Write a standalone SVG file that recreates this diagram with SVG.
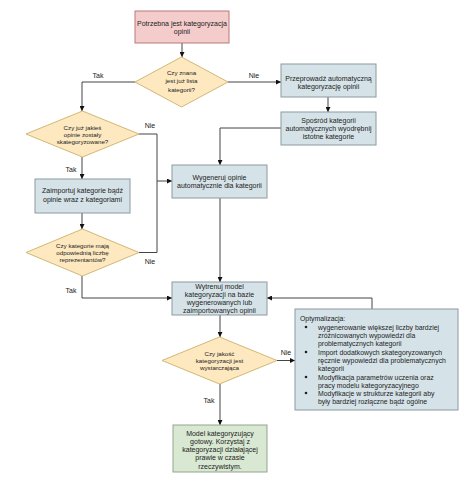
<svg xmlns="http://www.w3.org/2000/svg" width="474" height="494" viewBox="0 0 474 494">
<style>
text{font-family:"Liberation Sans",Arial,sans-serif;fill:#222;}
.t{font-size:7px;text-anchor:middle;}
.d{font-size:6.2px;text-anchor:middle;}
.l{font-size:7px;text-anchor:middle;}
.o{font-size:6.9px;}
.pink{fill:#f4cccc;stroke:#b97a78;stroke-width:1;}
.blue{fill:#d5e3e8;stroke:#8c9aa1;stroke-width:1;}
.dia{fill:#fde8c0;stroke:#d3b874;stroke-width:1;}
.green{fill:#d8e8d2;stroke:#93a58b;stroke-width:1;}
.c{fill:none;stroke:#444;stroke-width:1;}
</style>
<defs>
<marker id="a" viewBox="0 0 10 10" refX="10" refY="5" markerWidth="5" markerHeight="5" orient="auto" markerUnits="userSpaceOnUse"><path d="M0,0 L10,5 L0,10 z" fill="#111"/></marker>
</defs>
<rect width="474" height="494" fill="#fff"/>
<g id="connectors">
<path class="c" d="M182,43 V57" marker-end="url(#a)"/>
<path class="c" d="M135,82 H82 V111" marker-end="url(#a)"/>
<path class="c" d="M228,82 H281" marker-end="url(#a)"/>
<path class="c" d="M328,97 V112" marker-end="url(#a)"/>
<path class="c" d="M281,128 H220 V165" marker-end="url(#a)"/>
<path class="c" d="M139,134 H157 V252.5 H139"/>
<path class="c" d="M157,181 H172" marker-end="url(#a)"/>
<path class="c" d="M82,157 V179" marker-end="url(#a)"/>
<path class="c" d="M82,213 V229" marker-end="url(#a)"/>
<path class="c" d="M82,276 V298 H172" marker-end="url(#a)"/>
<path class="c" d="M220,198 V282" marker-end="url(#a)"/>
<path class="c" d="M220,315 V337" marker-end="url(#a)"/>
<path class="c" d="M277,360.5 H295" marker-end="url(#a)"/>
<path class="c" d="M220,384 V425" marker-end="url(#a)"/>
<path class="c" d="M372,309 V298 H267" marker-end="url(#a)"/>
<text class="l" x="98" y="78">Tak</text>
<text class="l" x="254" y="78">Nie</text>
<text class="l" x="150" y="128">Nie</text>
<text class="l" x="71" y="172">Tak</text>
<text class="l" x="150" y="263.5">Nie</text>
<text class="l" x="71" y="293">Tak</text>
<text class="l" x="286" y="354.5">Nie</text>
<text class="l" x="209" y="403">Tak</text>
</g>
<g id="start">
<rect class="pink" x="135" y="11" width="94" height="32"/>
<text class="t" x="182" y="25.5">Potrzebna jest kategoryzacja</text>
<text class="t" x="182" y="34">opinii</text>
</g>
<g id="d1">
<polygon class="dia" points="181.5,57 228,82 181.5,107 135,82"/>
<text class="d" x="181.5" y="74.5">Czy znana</text>
<text class="d" x="181.5" y="83">jest już lista</text>
<text class="d" x="181.5" y="91.5">kategorii?</text>
</g>
<g id="auto">
<rect class="blue" x="281" y="64" width="95" height="33"/>
<text class="t" x="328.5" y="80.8">Przeprowadź automatyczną</text>
<text class="t" x="328.5" y="89.2">kategoryzację opinii</text>
</g>
<g id="sposrod">
<rect class="blue" x="281" y="112" width="95" height="33"/>
<text class="t" x="328.5" y="123">Spośród kategorii</text>
<text class="t" x="328.5" y="131">automatycznych wyodrębnij</text>
<text class="t" x="328.5" y="139">istotne kategorie</text>
</g>
<g id="d2">
<polygon class="dia" points="82.5,111 139,134 82.5,157 26,134"/>
<text class="d" x="82.5" y="130">Czy już jakieś</text>
<text class="d" x="82.5" y="137">opinie zostały</text>
<text class="d" x="82.5" y="144">skategoryzowane?</text>
</g>
<g id="wygeneruj">
<rect class="blue" x="172" y="165" width="95" height="33"/>
<text class="t" x="219.5" y="180">Wygeneruj opinie</text>
<text class="t" x="219.5" y="188.2">automatycznie dla kategorii</text>
</g>
<g id="zaimportuj">
<rect class="blue" x="35" y="179" width="95" height="34"/>
<text class="t" x="82.5" y="193">Zaimportuj kategorie bądź</text>
<text class="t" x="82.5" y="201.6">opinie wraz z kategoriami</text>
</g>
<g id="d3">
<polygon class="dia" points="82.5,229 139,252.5 82.5,276 26,252.5"/>
<text class="d" x="82.5" y="248">Czy kategorie mają</text>
<text class="d" x="82.5" y="255">odpowiednią liczbę</text>
<text class="d" x="82.5" y="262">reprezentantów?</text>
</g>
<g id="wytrenuj">
<rect class="blue" x="172" y="282" width="95" height="33"/>
<text class="t" x="219.5" y="288.5">Wytrenuj model</text>
<text class="t" x="219.5" y="296.8">kategoryzacji na bazie</text>
<text class="t" x="219.5" y="305.1">wygenerowanych lub</text>
<text class="t" x="219.5" y="313.4">zaimportowanych opinii</text>
</g>
<g id="d4">
<polygon class="dia" points="219.5,337 277,360.5 219.5,384 162,360.5"/>
<text class="d" x="219.5" y="355.5">Czy jakość</text>
<text class="d" x="219.5" y="362.5">kategoryzacji jest</text>
<text class="d" x="219.5" y="369.5">wystarczająca</text>
</g>
<g id="optymalizacja">
<rect class="blue" x="295" y="309" width="163" height="101"/>
<text class="o" x="300" y="320.5">Optymalizacja:</text>
<g fill="#222">
<circle cx="306" cy="327" r="1.3"/>
<circle cx="306" cy="352" r="1.3"/>
<circle cx="306" cy="377" r="1.3"/>
<circle cx="306" cy="393" r="1.3"/>
</g>
<text class="o" x="318" y="329.5">wygenerowanie większej liczby bardziej</text>
<text class="o" x="318" y="337.7">zróżnicowanych wypowiedzi dla</text>
<text class="o" x="318" y="345.9">problematycznych kategorii</text>
<text class="o" x="318" y="354.5">Import dodatkowych skategoryzowanych</text>
<text class="o" x="318" y="362.7">ręcznie wypowiedzi dla problematycznych</text>
<text class="o" x="318" y="370.9">kategorii</text>
<text class="o" x="318" y="379.5">Modyfikacja parametrów uczenia oraz</text>
<text class="o" x="318" y="387.7">pracy modelu kategoryzacyjnego</text>
<text class="o" x="318" y="395.9">Modyfikacje w strukturze kategorii aby</text>
<text class="o" x="318" y="404.1">były bardziej rozłączne bądź ogólne</text>
</g>
<g id="model">
<rect class="green" x="173" y="425" width="94" height="47"/>
<text class="t" x="220" y="435.8">Model kategoryzujący</text>
<text class="t" x="220" y="444">gotowy. Korzystaj z</text>
<text class="t" x="220" y="452.2">kategoryzacji działającej</text>
<text class="t" x="220" y="460.4">prawie w czasie</text>
<text class="t" x="220" y="468.6">rzeczywistym.</text>
</g>
</svg>
